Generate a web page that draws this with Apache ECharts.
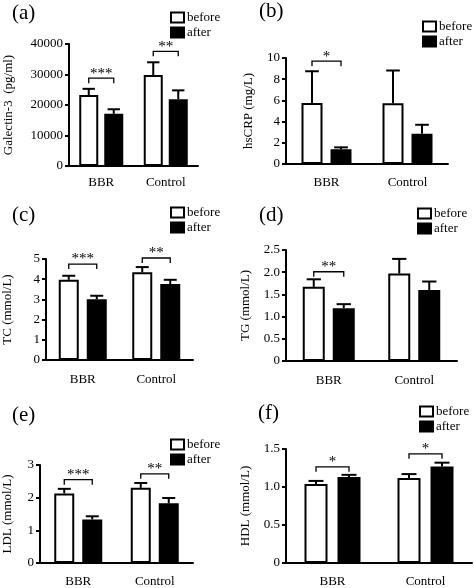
<!DOCTYPE html>
<html>
<head>
<meta charset="utf-8">
<script src="https://cdn.jsdelivr.net/npm/echarts@6/dist/echarts.min.js"></script>
<style>
  html, body { margin: 0; padding: 0; background: #fff; }
  #chart { width: 474px; height: 588px; }
</style>
</head>
<body>
<div id="chart"></div>
<script>
// categories / legend
const groups = ['BBR', 'Control'];
const seriesNames = ['before', 'after'];

// (a) Galectin-3
const galectinBefore = [23300, 29800];
const galectinBeforeSem = [2000, 4200];
const galectinAfter = [17100, 21900];
const galectinAfterSem = [1500, 2900];
const galectinSigY = [28800, 37600];
const galectinSigMark = ['***', '**'];
const galectinTicks = ['0', '10000', '20000', '30000', '40000'];

// (b) hsCRP
const hscrpBefore = [5.75, 5.72];
const hscrpBeforeSem = [3.0, 3.1];
const hscrpAfter = [1.4, 2.85];
const hscrpAfterSem = [0.17, 0.85];
const hscrpSigY = [9.7, null];
const hscrpSigMark = ['*', ''];
const hscrpTicks = ['0', '2', '4', '6', '8', '10'];

// (c) TC
const tcBefore = [3.97, 4.34];
const tcBeforeSem = [0.2, 0.26];
const tcAfter = [3.01, 3.76];
const tcAfterSem = [0.17, 0.21];
const tcSigY = [4.75, 5.05];
const tcSigMark = ['***', '**'];
const tcTicks = ['0', '1', '2', '3', '4', '5'];

// (d) TG
const tgBefore = [1.67, 1.97];
const tgBeforeSem = [0.17, 0.33];
const tgAfter = [1.19, 1.6];
const tgAfterSem = [0.09, 0.19];
const tgSigY = [2.01, null];
const tgSigMark = ['**', ''];
const tgTicks = ['0', '0.5', '1.0', '1.5', '2.0', '2.5'];

// (e) LDL
const ldlBefore = [2.13, 2.3];
const ldlBeforeSem = [0.14, 0.15];
const ldlAfter = [1.33, 1.83];
const ldlAfterSem = [0.1, 0.16];
const ldlSigY = [2.55, 2.73];
const ldlSigMark = ['***', '**'];
const ldlTicks = ['0', '1', '2', '3'];

// (f) HDL
const hdlBefore = [1.04, 1.12];
const hdlBeforeSem = [0.04, 0.05];
const hdlAfter = [1.13, 1.27];
const hdlAfterSem = [0.03, 0.05];
const hdlSigY = [1.265, 1.436];
const hdlSigMark = ['*', '*'];
const hdlTicks = ['0', '0.5', '1.0', '1.5'];

const FONT = '"Liberation Serif", "DejaVu Serif", serif';

// panel layout (pixels)
const panels = [
    { tag: '(a)', name: 'Galectin-3  (pg/ml)', before: galectinBefore, beforeSem: galectinBeforeSem, after: galectinAfter, afterSem: galectinAfterSem,
      sigY: galectinSigY, sigMark: galectinSigMark, ticks: galectinTicks,
      grid: { left: 69, top: 44, width: 129, height: 122 }, barW: 19, gap: 6, nameGap: 54, labelMargin: 10, tagPos: [12, 3], legendPos: [170, 11] },
    { tag: '(b)', name: 'hsCRP (mg/L)', before: hscrpBefore, beforeSem: hscrpBeforeSem, after: hscrpAfter, afterSem: hscrpAfterSem,
      sigY: hscrpSigY, sigMark: hscrpSigMark, ticks: hscrpTicks,
      grid: { left: 286, top: 58, width: 162, height: 106 }, barW: 21, gap: 8, nameGap: 31, labelMargin: 12, tagPos: [259, 1], legendPos: [422, 20] },
    { tag: '(c)', name: 'TC (mmol/L)', before: tcBefore, beforeSem: tcBeforeSem, after: tcAfter, afterSem: tcAfterSem,
      sigY: tcSigY, sigMark: tcSigMark, ticks: tcTicks,
      grid: { left: 39, top: 259, width: 154, height: 101 }, barW: 20, gap: 8, nameGap: 32, labelMargin: 13, tagPos: [12, 205], legendPos: [170, 206] },
    { tag: '(d)', name: 'TG (mmol/L)', before: tgBefore, beforeSem: tgBeforeSem, after: tgAfter, afterSem: tgAfterSem,
      sigY: tgSigY, sigMark: tgSigMark, ticks: tgTicks,
      grid: { left: 286, top: 250, width: 171, height: 111 }, barW: 22, gap: 8, nameGap: 34, labelMargin: 13, tagPos: [259, 205], legendPos: [417, 207] },
    { tag: '(e)', name: 'LDL (mmol/L)', before: ldlBefore, beforeSem: ldlBeforeSem, after: ldlAfter, afterSem: ldlAfterSem,
      sigY: ldlSigY, sigMark: ldlSigMark, ticks: ldlTicks,
      grid: { left: 39, top: 465, width: 154, height: 101 }, barW: 20, gap: 8, nameGap: 26, labelMargin: 12, tagPos: [12, 405], legendPos: [170, 438] },
    { tag: '(f)', name: 'HDL (mmol/L)', before: hdlBefore, beforeSem: hdlBeforeSem, after: hdlAfter, afterSem: hdlAfterSem,
      sigY: hdlSigY, sigMark: hdlSigMark, ticks: hdlTicks,
      grid: { left: 286, top: 449, width: 186, height: 118 }, barW: 23, gap: 10, nameGap: 34, labelMargin: 12, tagPos: [258, 403], legendPos: [419, 405] }
];

function errorSeries(i, vals, sems, offset, capW) {
    return {
        type: 'custom', xAxisIndex: i, yAxisIndex: i, silent: true, z: 5,
        encode: { x: 0, y: [1, 2] },
        data: vals.map((v, k) => [k, v, v + sems[k]]),
        renderItem: (params, api) => {
            const cat = api.value(0);
            const p0 = api.coord([cat, api.value(1)]);
            const p1 = api.coord([cat, api.value(2)]);
            const x = p0[0] + offset;
            const s = { stroke: '#000', lineWidth: 2 };
            return {
                type: 'group', children: [
                    { type: 'line', shape: { x1: x, y1: p0[1], x2: x, y2: p1[1] }, style: s },
                    { type: 'line', shape: { x1: x - capW / 2, y1: p1[1], x2: x + capW / 2, y2: p1[1] }, style: s }
                ]
            };
        }
    };
}

function sigSeries(i, sigY, marks, half) {
    const data = [];
    const labels = [];
    sigY.forEach((y, k) => {
        if (y == null) return;
        data.push([k, y]);
        labels.push(marks[k]);
    });
    return {
        type: 'custom', xAxisIndex: i, yAxisIndex: i, silent: true, z: 6,
        data: data,
        renderItem: (params, api) => {
            const p = api.coord([api.value(0), api.value(1)]);
            const s = { stroke: '#000', lineWidth: 1.3, fill: null };
            return {
                type: 'group', children: [
                    { type: 'polyline', shape: { points: [[p[0] - half, p[1] + 5], [p[0] - half, p[1]], [p[0] + half, p[1]], [p[0] + half, p[1] + 5]] }, style: s },
                    { type: 'text', style: { text: labels[params.dataIndex], x: p[0], y: p[1] + 3, align: 'center', verticalAlign: 'bottom',
                        textAlign: 'center', textVerticalAlign: 'bottom', font: '15px ' + FONT, fill: '#000' } }
                ]
            };
        }
    };
}

const chart = echarts.init(document.getElementById('chart'));

const grid = [], xAxis = [], yAxis = [], series = [], legend = [], graphic = [];

panels.forEach((p, i) => {
    grid.push(Object.assign({ containLabel: false }, p.grid));
    const interval = Number(p.ticks[1]) - Number(p.ticks[0]);
    xAxis.push({
        type: 'category', gridIndex: i, data: groups,
        axisLine: { lineStyle: { color: '#000', width: 2 } },
        axisTick: { alignWithLabel: true, length: 4, lineStyle: { color: '#000', width: 2 } },
        axisLabel: { margin: p.labelMargin, color: '#000', fontFamily: FONT, fontSize: 13 }
    });
    yAxis.push({
        type: 'value', gridIndex: i, min: 0, max: Number(p.ticks[p.ticks.length - 1]), interval: interval,
        name: p.name, nameLocation: 'middle', nameGap: p.nameGap,
        nameTextStyle: { color: '#000', fontFamily: FONT, fontSize: 13 },
        axisLine: { show: true, lineStyle: { color: '#000', width: 2 } },
        axisTick: { show: true, length: 4, lineStyle: { color: '#000', width: 2 } },
        splitLine: { show: false },
        axisLabel: { margin: 6, color: '#000', fontFamily: FONT, fontSize: 13,
            formatter: v => p.ticks[Math.round(v / interval)] }
    });
    const barGap = (p.gap / p.barW * 100) + '%';
    const off = (p.barW + p.gap) / 2;
    series.push({
        name: 'before', type: 'bar', xAxisIndex: i, yAxisIndex: i, data: p.before, barWidth: p.barW, barGap: barGap,
        itemStyle: { color: '#fff', borderColor: '#000', borderWidth: 2 }, silent: true
    });
    series.push({
        name: 'after', type: 'bar', xAxisIndex: i, yAxisIndex: i, data: p.after, barWidth: p.barW, barGap: barGap,
        itemStyle: { color: '#000', borderColor: '#000', borderWidth: 2 }, silent: true
    });
    series.push(errorSeries(i, p.before, p.beforeSem, -off, p.barW * 0.65));
    series.push(errorSeries(i, p.after, p.afterSem, off, p.barW * 0.65));
    series.push(sigSeries(i, p.sigY, p.sigMark, off));

    legend.push({
        left: p.legendPos[0], top: p.legendPos[1], orient: 'vertical', icon: 'rect',
        itemWidth: 13, itemHeight: 10, itemGap: 2, selectedMode: false, padding: 0,
        data: seriesNames,
        textStyle: { color: '#000', fontFamily: FONT, fontSize: 13, padding: [0, 0, 0, -2] }
    });
    graphic.push({
        type: 'text', left: p.tagPos[0], top: p.tagPos[1],
        style: { text: p.tag, font: '21px ' + FONT, fill: '#000' }
    });
});

chart.setOption({
    backgroundColor: '#fff',
    animation: false,
    grid: grid,
    xAxis: xAxis,
    yAxis: yAxis,
    legend: legend,
    graphic: graphic,
    series: series
});
</script>
</body>
</html>
